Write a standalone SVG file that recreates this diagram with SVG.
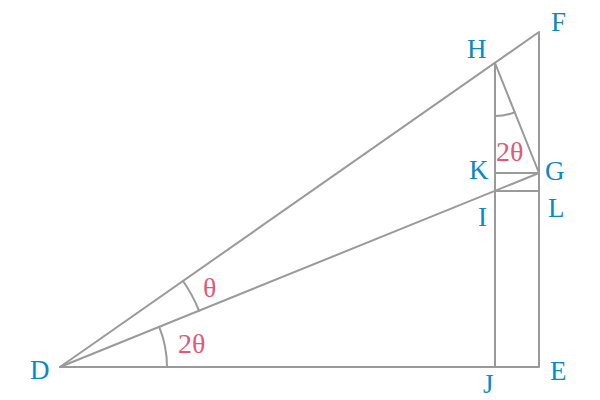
<svg xmlns="http://www.w3.org/2000/svg" width="600" height="400" viewBox="0 0 600 400">
<style>
.ln{stroke:#9a9a9a;stroke-width:2;fill:none;stroke-linecap:round;stroke-linejoin:round}
.pt{font-family:"Liberation Serif","DejaVu Serif",serif;font-size:27px;fill:#0a8ac4}
.ang{font-family:"Liberation Serif","DejaVu Serif",serif;font-size:28px;fill:#e05a78}
</style>
<rect width="600" height="400" fill="#ffffff"/>
<g id="connectors">
<path class="ln" d="M60,367 L539,367 L539,32 Z"/>
<line class="ln" x1="60" y1="367" x2="539" y2="173"/>
<line class="ln" x1="495" y1="63" x2="495" y2="367"/>
<line class="ln" x1="495" y1="63" x2="539" y2="173"/>
<line class="ln" x1="495" y1="173" x2="539" y2="173"/>
<line class="ln" x1="495" y1="191" x2="539" y2="191"/>
<path class="ln" d="M167,367 A107,107 0 0 0 159.2,326.9"/>
<path class="ln" d="M199,310.7 A150,150 0 0 0 183.2,281.3"/>
<path class="ln" d="M495,116 A53,53 0 0 0 514.7,112.2"/>
</g>
<g id="D"><text class="pt" x="30" y="379">D</text></g>
<g id="E"><text class="pt" x="550" y="380">E</text></g>
<g id="F"><text class="pt" x="551" y="31">F</text></g>
<g id="H"><text class="pt" x="467" y="58">H</text></g>
<g id="G"><text class="pt" x="545" y="180">G</text></g>
<g id="K"><text class="pt" x="469" y="179">K</text></g>
<g id="L"><text class="pt" x="548" y="217">L</text></g>
<g id="I"><text class="pt" x="478" y="226">I</text></g>
<g id="J"><text class="pt" x="483" y="393">J</text></g>
<g id="labels">
<text class="ang" x="203" y="297">θ</text>
<text class="ang" x="178" y="353">2θ</text>
<text class="ang" x="496" y="161">2θ</text>
</g>
</svg>
